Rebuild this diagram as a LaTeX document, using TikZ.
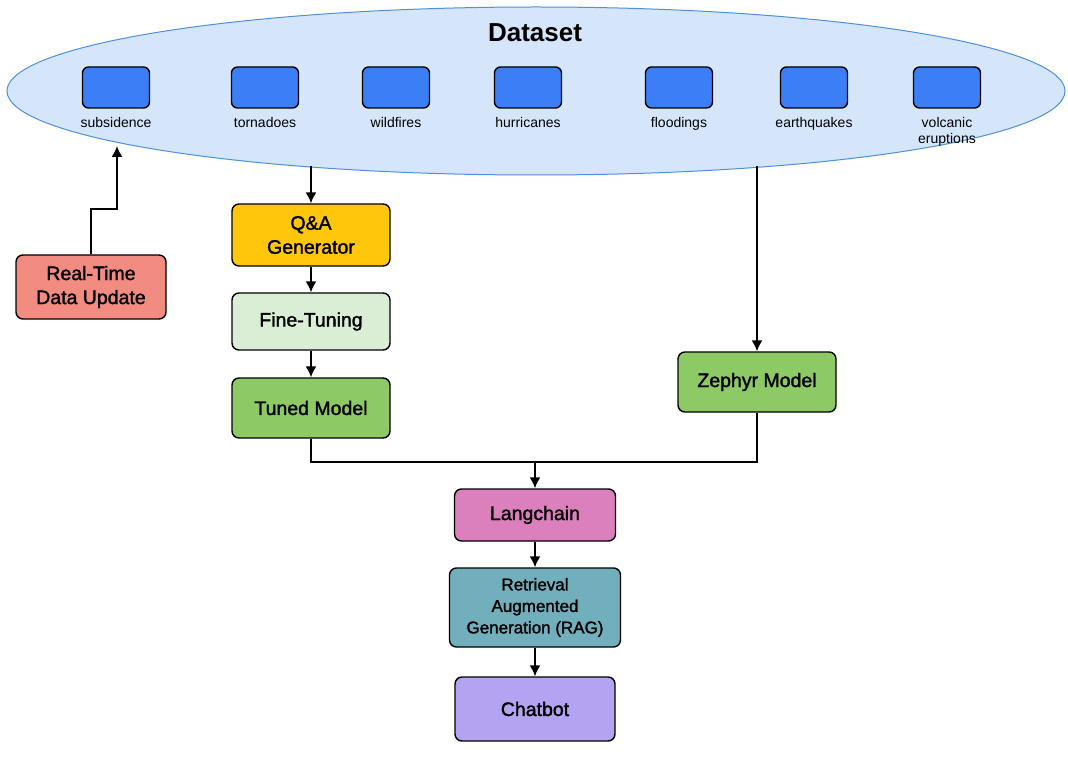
\documentclass[tikz,border=0pt]{standalone}
\usepackage{fontspec}
\setmainfont{Liberation Sans}
\newfontfamily\medfont{Liberation Sans}[FakeBold=1.6]
\usetikzlibrary{arrows.meta,shapes.geometric}
\definecolor{ellfill}{HTML}{D6E6FA}
\definecolor{elldraw}{HTML}{4E8FE0}
\definecolor{catblue}{HTML}{3B7EF6}
\definecolor{salmon}{HTML}{F28C80}
\definecolor{gold}{HTML}{FFC60B}
\definecolor{lightgreen}{HTML}{DAEED5}
\definecolor{midgreen}{HTML}{8DC965}
\definecolor{pinkc}{HTML}{DB80BC}
\definecolor{tealc}{HTML}{72AFBC}
\definecolor{lavender}{HTML}{B3A3F0}
\begin{document}
\begin{tikzpicture}[x=1pt,y=-1pt,
  box/.style={draw=black, line width=1.4pt, rounded corners=7pt, align=center,
    font=\medfont\fontsize{19.5}{24}\selectfont, inner sep=0pt},
  cat/.style={draw=black, line width=1.4pt, rounded corners=6pt, fill=catblue,
    minimum width=67pt, minimum height=41pt, inner sep=0pt},
  lbl/.style={font=\fontsize{14}{16}\selectfont, align=center, anchor=north, inner sep=0pt},
  arr/.style={-{Latex[length=11pt,width=11pt]}, line width=1.7pt},
  plain/.style={line width=1.7pt}]
\useasboundingbox (0,0) rectangle (1068,767);
\fill[white] (0,0) rectangle (1068,767);
% dataset ellipse
\node[draw=elldraw, fill=ellfill, line width=1pt, ellipse, minimum width=1058pt, minimum height=168pt, inner sep=0pt] (ds) at (536,91) {};
\node[font=\bfseries\fontsize{26}{30}\selectfont] (dstitle) at (535,33) {Dataset};
% categories
\node[cat] (c1) at (116,87.5) {};
\node[cat] (c2) at (265,87.5) {};
\node[cat] (c3) at (396,87.5) {};
\node[cat] (c4) at (528,87.5) {};
\node[cat] (c5) at (679,87.5) {};
\node[cat] (c6) at (814,87.5) {};
\node[cat] (c7) at (947,87.5) {};
\node[lbl] (l1) at (116,117.5) {subsidence};
\node[lbl] (l2) at (265,117.5) {tornadoes};
\node[lbl] (l3) at (396,117.5) {wildfires};
\node[lbl] (l4) at (528,117.5) {hurricanes};
\node[lbl] (l5) at (679,117.5) {floodings};
\node[lbl] (l6) at (814,117.5) {earthquakes};
\node[lbl] (l7) at (947,117.5) {volcanic\\eruptions};
% process boxes
\node[box, fill=salmon, minimum width=150pt, minimum height=64pt] (rt) at (91,287) {Real-Time\\Data Update};
\node[box, fill=gold, minimum width=158pt, minimum height=62pt] (qa) at (311,235) {Q\&A\\Generator};
\node[box, fill=lightgreen, minimum width=158pt, minimum height=57pt] (ft) at (311,321.5) {Fine-Tuning};
\node[box, fill=midgreen, minimum width=158pt, minimum height=60pt] (tm) at (311,408) {Tuned Model};
\node[box, fill=midgreen, minimum width=158pt, minimum height=60pt] (zm) at (757,382) {Zephyr Model};
\node[box, fill=pinkc, minimum width=161pt, minimum height=52pt] (lc) at (535,515) {Langchain};
\node[box, fill=tealc, minimum width=171pt, minimum height=79pt, font=\medfont\fontsize{17}{21.5}\selectfont] (rag) at (535,607.5) {Retrieval\\Augmented\\Generation (RAG)};
\node[box, fill=lavender, minimum width=160pt, minimum height=64pt] (cb) at (535,709) {Chatbot};
% connector end points on the ellipse
\coordinate (rtend) at (117,146);
\coordinate (dsq) at (311,166);
\coordinate (dsz) at (757,166);
\coordinate (mj) at (535,462);
% connectors
\draw[arr] (rt.north) -- ++(0,-45) -| (rtend);
\draw[arr] (dsq) -- (qa.north);
\draw[arr] (qa.south) -- (ft.north);
\draw[arr] (ft.south) -- (tm.north);
\draw[arr] (dsz) -- (zm.north);
\draw[plain] (tm.south) |- (mj) -| (zm.south);
\draw[arr] (mj) -- (lc.north);
\draw[arr] (lc.south) -- (rag.north);
\draw[arr] (rag.south) -- (cb.north);
\end{tikzpicture}
\end{document}
